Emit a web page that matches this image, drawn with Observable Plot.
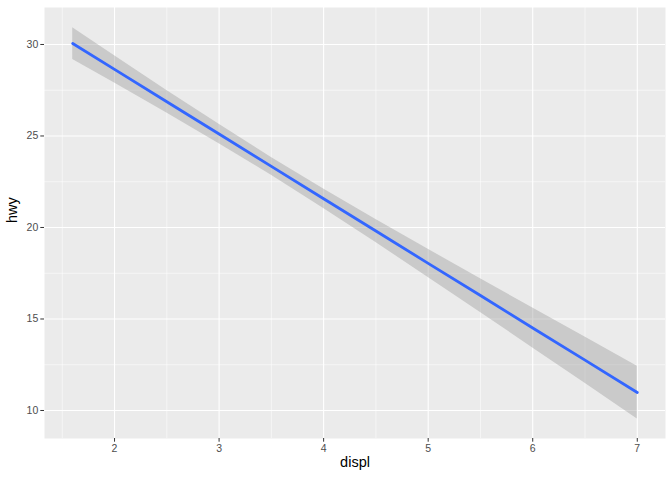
<!DOCTYPE html>
<html>
<head>
<meta charset="utf-8">
<script src="https://cdn.jsdelivr.net/npm/d3@7"></script>
<script src="https://cdn.jsdelivr.net/npm/@observablehq/plot@0.6"></script>
<style>
  html, body { margin: 0; padding: 0; background: #ffffff; }
  svg { display: block; }
</style>
</head>
<body>
<div id="chart"></div>
<script>
// Fitted line (lm), with 95% confidence band
const displ = [1.6, 2, 2.5, 3, 3.5, 4, 4.5, 5, 5.5, 6, 6.5, 7];
const fit   = [30.05, 28.64, 26.87, 25.11, 23.34, 21.57, 19.81, 18.04, 16.28, 14.51, 12.75, 10.98];
const lower = [29.18, 27.89, 26.25, 24.58, 22.85, 21.04, 19.18, 17.27, 15.36, 13.42, 11.49, 9.54];
const upper = [30.92, 29.39, 27.49, 25.64, 23.83, 22.10, 20.44, 18.81, 17.20, 15.60, 14.01, 12.42];

const xTicks = [2, 3, 4, 5, 6, 7];
const xMinor = [1.5, 2.5, 3.5, 4.5, 5.5, 6.5];
const yTicks = [10, 15, 20, 25, 30];
const yMinor = [12.5, 17.5, 22.5, 27.5];

const data = displ.map((d, i) => ({displ: d, fit: fit[i], lower: lower[i], upper: upper[i]}));

const font = "'Liberation Sans', Arial, sans-serif";

const chart = Plot.plot({
  width: 672,
  height: 480,
  marginLeft: 44,
  marginRight: 7,
  marginTop: 7,
  marginBottom: 42,
  style: {fontFamily: font, background: "#ffffff"},
  x: {domain: [1.33, 7.27]},
  y: {domain: [8.47, 32.02]},
  marks: [
    Plot.frame({fill: "#EBEBEB", stroke: null}),
    Plot.gridX(xMinor, {stroke: "#ffffff", strokeOpacity: 1, strokeWidth: 0.55}),
    Plot.gridY(yMinor, {stroke: "#ffffff", strokeOpacity: 1, strokeWidth: 0.55}),
    Plot.gridX(xTicks, {stroke: "#ffffff", strokeOpacity: 1, strokeWidth: 1.1}),
    Plot.gridY(yTicks, {stroke: "#ffffff", strokeOpacity: 1, strokeWidth: 1.1}),
    Plot.areaY(data, {x: "displ", y1: "lower", y2: "upper", fill: "#999999", fillOpacity: 0.4}),
    Plot.line(data, {x: "displ", y: "fit", stroke: "#3366FF", strokeWidth: 2.8}),
    Plot.axisX({ticks: xTicks, tickFormat: d => String(d), tickSize: 3.7, tickPadding: 2.5, stroke: "#333333", fill: "#4D4D4D", fontSize: 10.5, label: null}),
    Plot.axisY({ticks: yTicks, tickFormat: d => String(d), tickSize: 3.7, tickPadding: 2.5, stroke: "#333333", fill: "#4D4D4D", fontSize: 10.5, label: null}),
    Plot.text(["displ"], {frameAnchor: "bottom", dy: 28, text: d => d, fontSize: 14.5, fill: "#000000"}),
    Plot.text(["hwy"], {frameAnchor: "left", dx: -32, rotate: -90, text: d => d, fontSize: 14.5, fill: "#000000"})
  ]
});
document.getElementById("chart").appendChild(chart);
</script>
</body>
</html>
